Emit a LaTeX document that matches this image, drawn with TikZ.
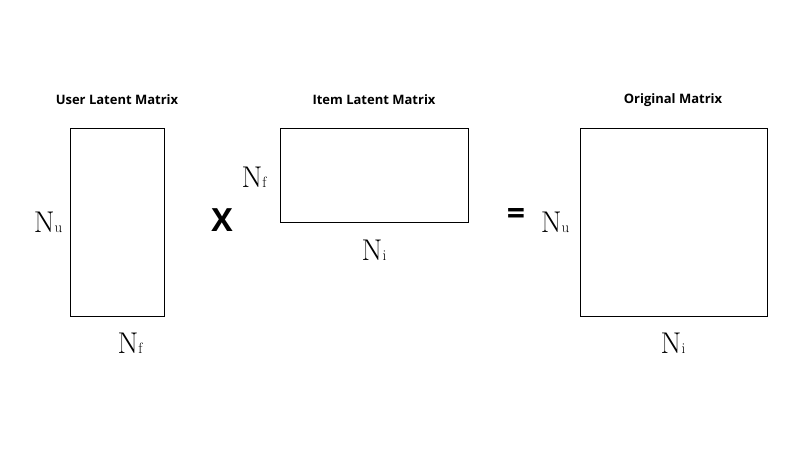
\documentclass[tikz,border=0pt]{standalone}
\usepackage{fontspec}
\setsansfont{Open Sans}
\begin{document}
\begin{tikzpicture}[x=1pt,y=-1pt,
  mat/.style={draw=black,line width=0.7pt},
  ttl/.style={font=\sffamily\bfseries\fontsize{13}{15}\selectfont},
  lbl/.style={font=\fontsize{30}{32}\selectfont}]
\useasboundingbox (0,0) rectangle (800,449);
\draw[mat] (70,128) rectangle (164,316);
\draw[mat] (280,128) rectangle (468,222);
\draw[mat] (580,128) rectangle (767,316);
\node[ttl] (t1) at (117,100) {User Latent Matrix};
\node[ttl] (t2) at (374,100) {Item Latent Matrix};
\node[ttl] (t3) at (673,100) {Original Matrix};
\newcommand{\NS}[1]{N{\fontsize{15}{15}\selectfont #1}}
\node[lbl] (a) at (48,222) {\NS{u}};
\node[lbl] (b) at (130,343) {\NS{f}};
\node[font=\sffamily\bfseries\fontsize{32}{32}\selectfont] (x) at (222,220) {X};
\node[lbl] (c) at (254,177) {\NS{f}};
\node[lbl] (d) at (374,250) {\NS{i}};
\node[font=\sffamily\bfseries\fontsize{32}{32}\selectfont] (e) at (516,216) {=};
\node[lbl] (f) at (555,222) {\NS{u}};
\node[lbl] (g) at (673,343) {\NS{i}};
\end{tikzpicture}
\end{document}
